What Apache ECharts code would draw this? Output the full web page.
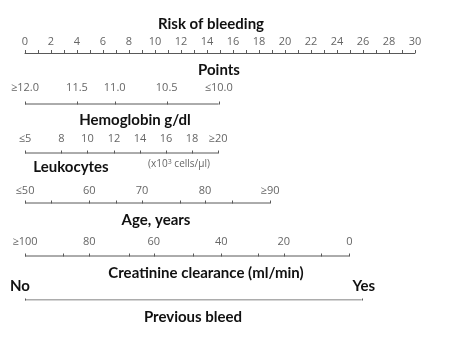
<!DOCTYPE html>
<html><head><meta charset="utf-8">
<script src="https://cdn.jsdelivr.net/npm/echarts@6/dist/echarts.min.js"></script>
<style>html,body{margin:0;padding:0;background:#fff}#c{width:474px;height:337px}</style>
</head><body><div id="c"></div>
<script>
// ---- data ----
const pointsMax = 30;
const hgbLabels = ['≥12.0', '11.5', '11.0', '10.5', '≤10.0'];
const hgbPoints = [0, 4.0, 6.9, 10.9, 14.9];
const leukLabels = ['≤5', '8', '10', '12', '14', '16', '18', '≥20'];
const leukPoints = [0, 2.8, 4.8, 6.85, 8.85, 10.85, 12.85, 14.85];
const ageLabels = ['≤50', '', '60', '', '70', '', '80', '', '≥90'];
const agePoints = [0, 2.0, 4.95, 7.0, 9.0, 11.9, 13.85, 15.9, 18.85];
const crclLabels = ['≥100', '', '80', '', '60', '', '40', '', '20', '', '0'];
const crclPoints = [0, 2.95, 4.95, 8.0, 9.9, 12.95, 15.1, 17.9, 19.9, 22.8, 24.95];
const bleedLabels = ['No', 'Yes'];
const bleedPoints = [0, 25.9];

// ---- layout (row baselines, pixel units on hidden y axis) ----
const rows = { points: 53, hgb: 104, leuk: 153, age: 203, crcl: 256, bleed: 300 };
const lineColor = '#595959';
const tickFont = '11px "Open Sans"';
const titleFont = 'bold 15px Lato';

function scaleSeries(labels, pts, rowY, opts) {
  opts = opts || {};
  const data = pts.map((p, i) => [p, rowY, labels[i]]);
  return [
    {
      type: 'line', xAxisIndex: 0, yAxisIndex: 0,
      data: [[pts[0], rowY], [pts[pts.length - 1], rowY]],
      symbol: 'none', silent: true,
      lineStyle: { color: lineColor, width: 1 }
    },
    {
      type: 'custom', xAxisIndex: 0, yAxisIndex: 0, silent: true,
      data: data,
      renderItem: function (params, api) {
        const c = api.coord([api.value(0), api.value(1)]);
        const lbl = data[params.dataIndex][2];
        const x = Math.round(c[0]) + 0.5, y = Math.round(c[1]) + 0.5;
        const children = [{
          type: 'line',
          shape: { x1: x, y1: y, x2: x, y2: y - (opts.tickLen || 3) },
          style: { stroke: lineColor, lineWidth: 1 }
        }];
        if (lbl) {
          let dx = 0;
          if (opts.dx) dx = opts.dx[params.dataIndex];
          children.push({
            type: 'text',
            style: {
              x: c[0] + dx, y: c[1] - (opts.labelGap || 14),
              text: lbl, align: 'center', verticalAlign: 'middle',
              font: opts.font || tickFont, fill: opts.color || '#666'
            }
          });
        }
        return { type: 'group', children: children };
      }
    }
  ];
}

const chart = echarts.init(document.getElementById('c'));
const series = [].concat(
  scaleSeries(hgbLabels, hgbPoints, rows.hgb, { labelGap: 16 }),
  scaleSeries(leukLabels, leukPoints, rows.leuk, { labelGap: 14 }),
  scaleSeries(ageLabels, agePoints, rows.age, { labelGap: 12 }),
  scaleSeries(crclLabels, crclPoints, rows.crcl, { labelGap: 14 }),
  scaleSeries(bleedLabels, bleedPoints, rows.bleed, { labelGap: 14, tickLen: 2, dx: [-5, 2], font: 'bold 15px Lato', color: '#111' })
);

function title(text, cx, cy) {
  return { type: 'text', style: { text: text, x: cx, y: cy, align: 'center', verticalAlign: 'middle', font: titleFont, fill: '#111' } };
}

chart.setOption({
  animation: false,
  grid: { left: 25, right: 59, top: rows.points, bottom: 337 - rows.bleed },
  xAxis: {
    type: 'value', min: 0, max: pointsMax, interval: 2, position: 'top',
    axisLine: { show: true, lineStyle: { color: lineColor, width: 1 } },
    axisTick: { show: true, inside: false, length: 3, lineStyle: { color: lineColor } },
    minorTick: { show: true, splitNumber: 2, length: 3, lineStyle: { color: lineColor } },
    axisLabel: { margin: 6, color: '#666', fontFamily: 'Open Sans', fontSize: 11 },
    splitLine: { show: false }
  },
  yAxis: { type: 'value', min: rows.points, max: rows.bleed, inverse: true, show: false },
  graphic: [
    title('Risk of bleeding', 211, 24),
    title('Points', 219, 70),
    title('Hemoglobin g/dl', 135, 120),
    title('Leukocytes', 71, 167),
    {
      type: 'text',
      style: {
        x: 179, y: 164, align: 'center', verticalAlign: 'middle',
        text: '(x10{s|3} cells/µl)',
        font: '10px "Open Sans"', fill: '#666',
        rich: { s: { fontSize: 7, fontFamily: 'Open Sans', verticalAlign: 'top', padding: [0, 0, 5, 0], fill: '#666' } }
      }
    },
    title('Age, years', 156, 220),
    title('Creatinine clearance (ml/min)', 206, 273),
    title('Previous bleed', 193, 317)
  ],
  series: series
});
</script></body></html>
